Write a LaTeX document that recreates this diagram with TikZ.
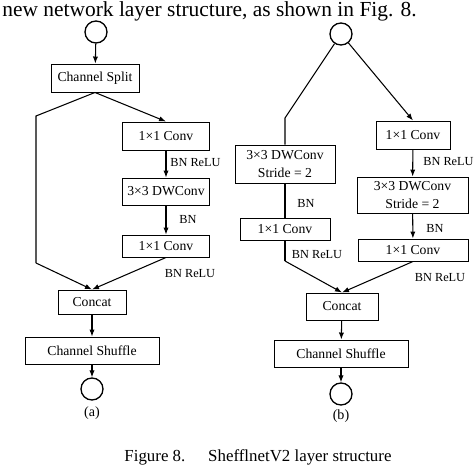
\documentclass[tikz,border=0pt]{standalone}
\usepackage{fontspec}
\setmainfont{Liberation Serif}
\usetikzlibrary{arrows.meta}

\begin{document}
\begin{tikzpicture}[x=0.02cm,y=-0.02cm,>={Latex[length=1.4mm,width=1.05mm]},
		blk/.style={draw,line width=0.55pt,inner sep=0pt,align=center,font=\fontsize{7.8}{10}\selectfont},
		io/.style={draw,circle,line width=0.75pt,minimum size=0.44cm,inner sep=0pt},
		lbl/.style={inner sep=0pt,font=\fontsize{7}{8}\selectfont},
		wire/.style={line width=0.6pt}]
			\useasboundingbox (0,0) rectangle (474,467);

			% line of the text above the figure
			\node[anchor=base west,inner sep=0pt,font=\fontsize{12.2}{15}\selectfont] (prose) at (2,16) {new network layer structure, as shown in Fig. 8.};

			% (a)
			\node[io] (inA) at (96,32) {};
			\node[blk,minimum width=1.76cm,minimum height=0.56cm] (splitA) at (95,78) {Channel Split};
			\node[blk,minimum width=1.74cm,minimum height=0.56cm] (convA1) at (166,136) {1×1 Conv};
			\node[blk,minimum width=1.74cm,minimum height=0.54cm] (dwA) at (166,191.5) {3×3 DWConv};
			\node[blk,minimum width=1.74cm,minimum height=0.44cm] (convA2) at (166,246) {1×1 Conv};
			\node[blk,minimum width=1.36cm,minimum height=0.48cm] (concatA) at (92,302) {Concat};
			\node[blk,minimum width=2.68cm,minimum height=0.54cm] (shuffleA) at (92,350.5) {Channel Shuffle};
			\node[io] (outA) at (92,389) {};
			\node[lbl,font=\fontsize{8}{9}\selectfont] (capA) at (92,413) {(a)};
			\coordinate (bendA) at (36,116);
			\coordinate (lowA) at (36,263);

			\node[lbl,anchor=west] (reluA1) at (170,163) {BN ReLU};
			\node[lbl] (bnA) at (188,219) {BN};
			\node[lbl] (reluA2) at (190,274) {BN ReLU};

			\draw[wire,->] (inA)--(splitA);
			\draw[wire] (splitA.south)--(bendA)--(lowA);
			\draw[wire,->] (lowA)--(concatA.north);
			\draw[wire,->] (splitA.south)--(convA1.north);
			\draw[wire,->] (convA1)--(dwA);
			\draw[wire,->] (dwA)--(convA2);
			\draw[wire,->] (convA2.south)--(concatA.north);
			\draw[wire,->] (concatA)--(shuffleA);
			\draw[wire,->] (shuffleA)--(outA);

			% (b)
			\node[io] (inB) at (341,34) {};
			\node[blk,minimum width=2.0cm,minimum height=0.76cm] (dwB1) at (285,164) {3×3 DWConv\\Stride = 2};
			\node[blk,minimum width=1.8cm,minimum height=0.44cm] (convB1) at (285,229.5) {1×1 Conv};
			\node[blk,minimum width=1.48cm,minimum height=0.56cm] (convB2) at (413,135) {1×1 Conv};
			\node[blk,minimum width=2.22cm,minimum height=0.72cm] (dwB2) at (412.5,195) {3×3 DWConv\\Stride = 2};
			\node[blk,minimum width=2.2cm,minimum height=0.44cm] (convB3) at (413,250) {1×1 Conv};
			\node[blk,minimum width=1.44cm,minimum height=0.54cm] (concatB) at (342,306.5) {Concat};
			\node[blk,minimum width=2.68cm,minimum height=0.54cm] (shuffleB) at (341,353.5) {Channel Shuffle};
			\node[io] (outB) at (341,394) {};
			\node[lbl,font=\fontsize{8}{9}\selectfont] (capB) at (341,416) {(b)};
			\coordinate (bendB) at (285,118);
			\coordinate (lowB) at (285,261);

			\node[lbl] (bnB1) at (306,203) {BN};
			\node[lbl] (reluB1) at (317,255) {BN ReLU};
			\node[lbl,anchor=west] (reluB2) at (423,162) {BN ReLU};
			\node[lbl] (bnB2) at (435,228) {BN};
			\node[lbl] (reluB3) at (440,278) {BN ReLU};

			\draw[wire] (inB)--(bendB)--(dwB1.north);
			\draw[wire] (dwB1)--(convB1);
			\draw[wire] (convB1.south)--(lowB);
			\draw[wire,->] (lowB)--(concatB.north);
			\draw[wire,->] (inB)--(convB2.north);
			\draw[wire,->] (convB2)--(dwB2);
			\draw[wire,->] (dwB2)--(convB3);
			\draw[wire,->] (convB3.south)--(concatB.north);
			\draw[wire,->] (concatB)--(shuffleB);
			\draw[wire,->] (shuffleB)--(outB);

			% caption
			\node[anchor=base,inner sep=0pt,font=\fontsize{9.6}{11}\selectfont] (caption) at (258,461) {Figure 8.\hspace{13pt}ShefflnetV2 layer structure};
		\end{tikzpicture}
\end{document}
